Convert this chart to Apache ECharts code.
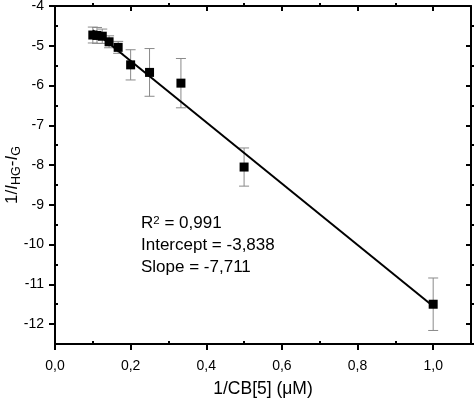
<!DOCTYPE html>
<html><head><meta charset="utf-8">
<script src="https://cdn.jsdelivr.net/npm/echarts@6/dist/echarts.min.js"></script>
<style>html,body{margin:0;padding:0;background:#fff}#c{width:474px;height:399px}</style>
</head><body><div id="c"></div>
<script>
// data
const xVals = [0.1, 0.111, 0.125, 0.143, 0.167, 0.2, 0.25, 0.333, 0.5, 1.0];
const yVals = [-4.73, -4.74, -4.76, -4.90, -5.04, -5.48, -5.67, -5.94, -8.05, -11.50];
const yErr  = [0.20, 0.20, 0.18, 0.15, 0.15, 0.38, 0.60, 0.62, 0.48, 0.66];
const fitX = [0.1, 1.0];
const fitY = [-4.61, -11.55];
const xMajor = [0, 0.2, 0.4, 0.6, 0.8, 1.0];
const xMinor = [0.1, 0.3, 0.5, 0.7, 0.9];
const yMajor = [-12, -11, -10, -9, -8, -7, -6, -5, -4];
const yMinor = [-12.5, -11.5, -10.5, -9.5, -8.5, -7.5, -6.5, -5.5, -4.5];
const statLines = ['R{sup|2} = 0,991', 'Intercept = -3,838', 'Slope = -7,711'];

const FONT = "'Liberation Sans', Arial, sans-serif";
const chart = echarts.init(document.getElementById('c'));

function xAx(pos, ticks, len, inside, line, labels) {
  return {
    type: 'value', position: pos, min: 0, max: 1.1,
    axisLine: {show: line, onZero: false, lineStyle: {color: '#000', width: 2}},
    axisTick: {show: true, inside: inside, length: len, customValues: ticks, lineStyle: {color: '#000', width: 2}},
    axisLabel: labels ? {show: true, customValues: xMajor, margin: 15, color: '#000', fontSize: 14, fontFamily: FONT,
      formatter: v => v.toFixed(1).replace('.', ',')} : {show: false},
    splitLine: {show: false}
  };
}
function yAx(pos, ticks, len, inside, line, labels) {
  return {
    type: 'value', position: pos, min: -12.5, max: -4,
    axisLine: {show: line, onZero: false, lineStyle: {color: '#000', width: 2}},
    axisTick: {show: true, inside: inside, length: len, customValues: ticks, lineStyle: {color: '#000', width: 2}},
    axisLabel: labels ? {show: true, customValues: yMajor, margin: 11, color: '#000', fontSize: 14, fontFamily: FONT,
      formatter: v => String(Math.round(v))} : {show: false},
    splitLine: {show: false}
  };
}

const xAxes = [
  xAx('bottom', xMajor, 6, false, true, true),
  xAx('top', xMajor, 5, true, true, false),
  xAx('top', xMinor, 3, false, false, false),    // flips to bottom
  xAx('bottom', xMinor, 3, true, false, false)   // flips to top
];
xAxes[0].name = '1/CB[5] (\u03bcM)';
xAxes[0].nameLocation = 'middle';
xAxes[0].nameGap = 36;
xAxes[0].nameMoveOverlap = false;
xAxes[0].nameTextStyle = {color: '#000', fontSize: 17.5, fontFamily: FONT};

const yAxes = [
  yAx('left', yMajor, 6, false, true, true),
  yAx('right', yMajor, 5, true, true, false),
  yAx('right', yMinor, 3, false, false, false),  // flips to left
  yAx('left', yMinor, 3, true, false, false)     // flips to right
];
yAxes[0].name = '{n|1/}{i|I}{s|HG}{n|-}{i|I}{s|G}';
yAxes[0].nameLocation = 'middle';
yAxes[0].nameRotate = 90;
yAxes[0].nameGap = 32;
yAxes[0].nameMoveOverlap = false;
yAxes[0].nameTextStyle = {color: '#000', fontSize: 17, fontFamily: FONT, rich: {
  n: {fontSize: 17, fontFamily: FONT, color: '#000', lineHeight: 22, verticalAlign: 'middle'},
  i: {fontSize: 17, fontFamily: FONT, color: '#000', fontStyle: 'italic', lineHeight: 22, verticalAlign: 'middle'},
  s: {fontSize: 12.5, fontFamily: FONT, color: '#000', lineHeight: 12, verticalAlign: 'bottom'}
}};

const errData = xVals.map((x, i) => [x, yVals[i] - yErr[i], yVals[i] + yErr[i]]);
const ptData = xVals.map((x, i) => [x, yVals[i]]);
const fitData = fitX.map((x, i) => [x, fitY[i]]);

chart.setOption({
  animation: false,
  grid: {left: 55, right: 3, top: 6, bottom: 55, containLabel: false, outerBoundsMode: 'none'},
  xAxis: xAxes,
  yAxis: yAxes,
  series: [
    {
      type: 'custom', xAxisIndex: 0, yAxisIndex: 0, z: 1,
      data: errData, encode: {x: 0, y: [1, 2]},
      renderItem: function (params, api) {
        const x = api.value(0), lo = api.value(1), hi = api.value(2);
        const p1 = api.coord([x, hi]), p2 = api.coord([x, lo]);
        const w = 5;
        const st = {stroke: '#8a8a8a', lineWidth: 1};
        return {type: 'group', children: [
          {type: 'line', shape: {x1: p1[0], y1: p1[1], x2: p2[0], y2: p2[1]}, style: st},
          {type: 'line', shape: {x1: p1[0] - w, y1: p1[1], x2: p1[0] + w, y2: p1[1]}, style: st},
          {type: 'line', shape: {x1: p2[0] - w, y1: p2[1], x2: p2[0] + w, y2: p2[1]}, style: st}
        ]};
      }
    },
    {
      type: 'line', xAxisIndex: 0, yAxisIndex: 0, z: 2, data: fitData,
      showSymbol: false, symbol: 'none', lineStyle: {color: '#000', width: 2}
    },
    {
      type: 'scatter', xAxisIndex: 0, yAxisIndex: 0, z: 3, data: ptData,
      symbol: 'rect', symbolSize: 9, itemStyle: {color: '#000', opacity: 1}
    }
  ],
  graphic: statLines.map((t, i) => ({
    type: 'text', left: 141, top: 215 + i * 22,
    style: {text: t, fill: '#000', fontSize: 17, fontFamily: FONT,
      rich: {sup: {fontSize: 11.5, fontFamily: FONT, fill: '#000', verticalAlign: 'top', lineHeight: 11, padding: [0, 0, 7, 0]}}}
  }))
});
</script></body></html>
